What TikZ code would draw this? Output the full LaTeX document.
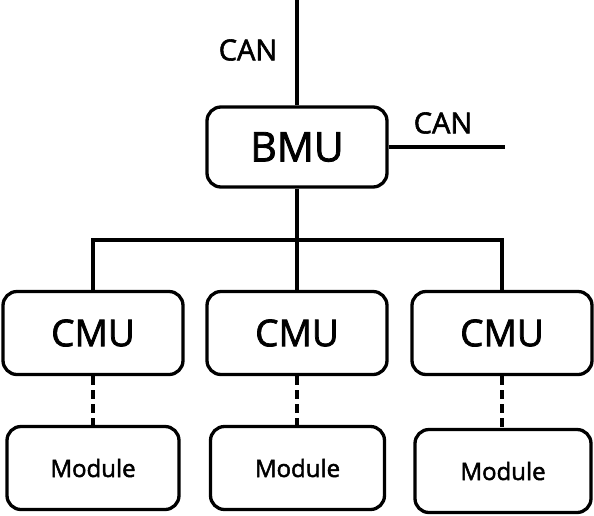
\documentclass[tikz,border=0pt]{standalone}
\usepackage{fontspec}
\setmainfont{Open Sans}
\newfontfamily\semibold{Open Sans}[FakeBold=2]
\usetikzlibrary{arrows}

\begin{document}
\begin{tikzpicture}[x=1pt,y=-1pt,line width=3.3pt]
    \tikzstyle{unit}=[draw,rounded corners=14pt,inner sep=0pt,line width=3.3pt]
    \tikzstyle{master}=[unit,minimum width=180pt,minimum height=80pt,font=\semibold\fontsize{41}{44}\selectfont]
    \tikzstyle{slave}=[unit,minimum width=180pt,minimum height=83pt,font=\semibold\fontsize{37}{40}\selectfont]
    \tikzstyle{module}=[unit,minimum height=83pt,font=\semibold\fontsize{24}{26}\selectfont]
    \tikzstyle{bus label}=[font=\semibold\fontsize{29}{31}\selectfont]
    \tikzstyle{link}=[dash pattern=on 9pt off 5pt]

    \useasboundingbox (0,0) rectangle (594,515);

    % Draw the BMU
    \node[master] (BMU) at (297,147) {BMU};

    % Draw the CMU layer
    \foreach \name / \x in {1/93,2/297,3/502}
        \node[slave] (CMU-\name) at (\x,333) {CMU};

    % Draw the module layer
    \foreach \name / \x / \y / \w in {1/93/468/172,2/297.5/468/174,3/503/471/176}
        \node[module,minimum width=\w pt] (Mod-\name) at (\x,\y) {Module};

    % CAN bus ends
    \coordinate (can-top) at (297,0);
    \coordinate (can-right) at (505,147);
    \coordinate (bus) at (297,240);
    \node[bus label] (lab-top) at (248,50) {CAN};
    \node[bus label] (lab-right) at (443,123) {CAN};

    \draw (can-top) -- (BMU);
    \draw (BMU.east) -- (can-right);

    % Connect the BMU with every CMU
    \draw (BMU) -- (CMU-2);
    \draw (CMU-1) |- (bus) -| (CMU-3);

    % Connect every CMU with its module
    \foreach \name in {1,...,3}
        \draw[link] (CMU-\name.south) -- (CMU-\name.south |- Mod-\name.north);

\end{tikzpicture}
\end{document}
